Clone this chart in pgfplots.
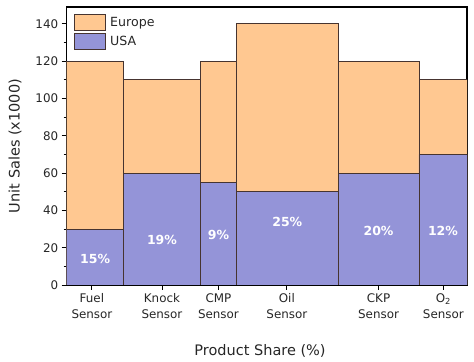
\documentclass[border=0pt]{standalone}
\usepackage{pgfplots}
\pgfplotsset{compat=1.18}
\usepackage{fontspec}
\setmainfont{DejaVu Sans}
\definecolor{eur}{RGB}{255,200,145}
\definecolor{usa}{RGB}{148,148,216}
\definecolor{edge}{RGB}{70,52,48}
\begin{document}
\begin{tikzpicture}
\begin{axis}[
  name=ax,
  scale only axis,
  width=400.3pt, height=278pt,
  xmin=0, xmax=100, ymin=0, ymax=149,
  axis line style={line width=1.1pt, black},
  tick align=outside,
  xtick pos=bottom, ytick pos=left,
  major tick length=5pt, minor tick length=3pt,
  every tick/.style={black, line width=0.9pt},
  ytick={0,20,...,140},
  minor y tick num=1,
  xtick={6.3,23.8,37.9,55.0,77.9,94.1},
  xticklabels={Fuel\\Sensor, Knock\\Sensor, CMP\\Sensor, Oil\\Sensor, CKP\\Sensor, O\textsubscript{2}\\Sensor},
  x tick label as interval=false,
  xticklabel style={align=center, font=\fontsize{11.9}{16.3}\selectfont, text=black!85},
  yticklabel style={font=\fontsize{11.9}{14}\selectfont, text=black!85},
  /pgf/number format/assume math mode=true,
  xlabel={Product Share (\%)},
  ylabel={Unit Sales (x1000)},
  xlabel style={at={(axis description cs:0.483,0)}, anchor=base, yshift=-71pt, font=\fontsize{14.5}{17}\selectfont, text=black!85},
  ylabel style={at={(axis description cs:0,0.5)}, anchor=center, yshift=51.7pt, font=\fontsize{14.5}{17}\selectfont, text=black!85},
  legend style={at={(axis description cs:0,1)}, anchor=north west, xshift=6pt, yshift=-6pt, draw=none, fill=none,
    font=\fontsize{12.6}{14}\selectfont, row sep=2pt, inner sep=1pt,
    nodes={inner sep=1.5pt, text=black!85},
    /tikz/every odd column/.append style={column sep=3pt}},
  legend cell align=left,
  legend image code/.code={\draw[#1, line width=0.8pt] (0pt,-8pt) rectangle (31pt,8pt);},
]
\addplot[ybar interval, fill=eur, draw=edge, line width=0.8pt]
  coordinates {(0,120) (14.2,110) (33.4,120) (42.4,140) (67.8,120) (88.0,110) (100,110)};
\addlegendentry{Europe}
\addplot[ybar interval, fill=usa, draw=edge, line width=0.8pt]
  coordinates {(0,30) (14.2,60) (33.4,55) (42.4,50) (67.8,60) (88.0,70) (100,70)};
\addlegendentry{USA}
\begin{scope}[every node/.style={text=white, font=\bfseries\fontsize{12.5}{14}\selectfont}]
\node at (axis cs:7.1,14) {15\%};
\node at (axis cs:23.8,24) {19\%};
\node at (axis cs:37.9,27) {9\%};
\node at (axis cs:55.1,34) {25\%};
\node at (axis cs:77.9,29) {20\%};
\node at (axis cs:94.0,29) {12\%};
\end{scope}
\end{axis}
\pgfresetboundingbox
\path[use as bounding box] ([xshift=-66.7pt,yshift=-77pt]ax.south west) rectangle ([xshift=7pt,yshift=7pt]ax.north east);
\end{tikzpicture}
\end{document}
